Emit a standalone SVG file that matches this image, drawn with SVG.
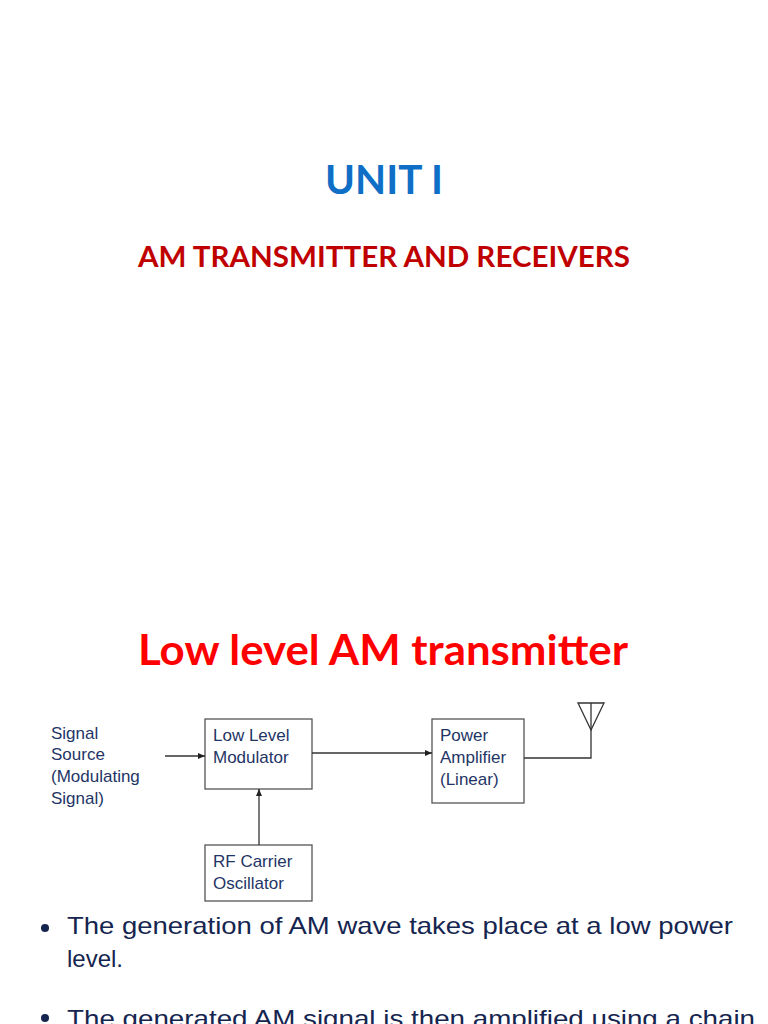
<svg xmlns="http://www.w3.org/2000/svg" width="768" height="1024" viewBox="0 0 768 1024">
<style>
.bx{fill:#fff;stroke:#555;stroke-width:1.3}
.lb{font-family:"Liberation Sans",Arial,sans-serif;font-size:17px;fill:#1f3566}
.ln{stroke:#333;stroke-width:1.3;fill:none}
.bt{font-family:"Liberation Sans",Arial,sans-serif;font-size:24px;fill:#15254f}
</style>
<defs><marker id="a" markerWidth="8" markerHeight="8" refX="7" refY="4" orient="auto" markerUnits="userSpaceOnUse"><path d="M0,1 L7,4 L0,7z" fill="#222"/></marker></defs>
<rect width="768" height="1024" fill="#fff"/>
<text x="325" y="194" textLength="118" lengthAdjust="spacingAndGlyphs" font-family="Lato,'Open Sans',sans-serif" font-weight="bold" font-size="40" fill="#0f6fc6">UNIT I</text>
<text x="138" y="267" textLength="492" lengthAdjust="spacingAndGlyphs" font-family="Lato,'Open Sans',sans-serif" font-weight="bold" font-size="28" fill="#c00000">AM TRANSMITTER AND RECEIVERS</text>
<text x="138" y="665" textLength="490" lengthAdjust="spacingAndGlyphs" font-family="Lato,'Open Sans',sans-serif" font-weight="bold" font-size="42" fill="#ff0000">Low level AM transmitter</text>
<g id="src"><text class="lb" x="51" y="739">Signal</text><text class="lb" x="51" y="760">Source</text><text class="lb" x="51" y="782">(Modulating</text><text class="lb" x="51" y="804">Signal)</text></g>
<g id="mod"><rect class="bx" x="205" y="719" width="107" height="70"/><text class="lb" x="213" y="741">Low Level</text><text class="lb" x="213" y="763">Modulator</text></g>
<g id="pa"><rect class="bx" x="432" y="719" width="92" height="84"/><text class="lb" x="440" y="741">Power</text><text class="lb" x="440" y="763">Amplifier</text><text class="lb" x="440" y="785">(Linear)</text></g>
<g id="osc"><rect class="bx" x="205" y="845" width="107" height="56"/><text class="lb" x="213" y="867">RF Carrier</text><text class="lb" x="213" y="889">Oscillator</text></g>
<g id="ant"><path class="ln" d="M578,703 L604,703 L591,730 Z"/></g>
<g id="connectors">
<line class="ln" x1="165" y1="756" x2="205" y2="756" marker-end="url(#a)"/>
<line class="ln" x1="312" y1="753" x2="432" y2="753" marker-end="url(#a)" stroke-width="2"/>
<line class="ln" x1="259" y1="845" x2="259" y2="789" marker-end="url(#a)"/>
<path class="ln" d="M524,758 L591,758 L591,703"/>
</g>
<g id="bullets">
<circle cx="45" cy="928" r="4" fill="#15254f"/>
<text class="bt" x="67" y="934" textLength="666" lengthAdjust="spacingAndGlyphs">The generation of AM wave takes place at a low power</text>
<text class="bt" x="67" y="967">level.</text>
<circle cx="45" cy="1018" r="4" fill="#15254f"/>
<text class="bt" x="67" y="1027" textLength="688" lengthAdjust="spacingAndGlyphs">The generated AM signal is then amplified using a chain</text>
</g>
</svg>
